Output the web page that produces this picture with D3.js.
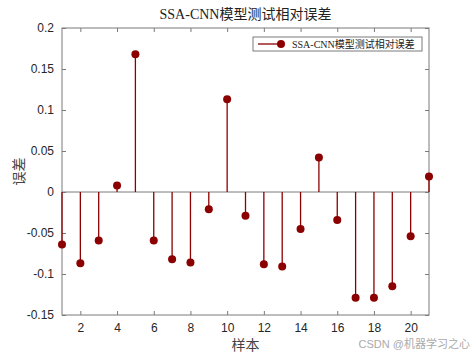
<!DOCTYPE html>
<html>
<head>
<meta charset="utf-8">
<script src="https://cdn.jsdelivr.net/npm/d3@7"></script>
<style>
  body { margin: 0; background: #fff; }
  svg { display: block; }
</style>
</head>
<body>
<svg id="chart" width="474" height="355"></svg>
<script>
// data
var samples = d3.range(1, 22);
var errors = [-0.064, -0.087, -0.059, 0.008, 0.168, -0.059, -0.082, -0.086, -0.021, 0.113,
              -0.029, -0.088, -0.091, -0.045, 0.042, -0.034, -0.129, -0.129, -0.115, -0.054, 0.019];
var xTicks = [2, 4, 6, 8, 10, 12, 14, 16, 18, 20];
var yTicks = [-0.15, -0.1, -0.05, 0, 0.05, 0.1, 0.15, 0.2];

var titleText = "SSA-CNN模型测试相对误差";
var xLabel = "样本";
var yLabel = "误差";

var stemColor = "#8b0000";
var axisColor = "#7a7a7a";
var serif = "'Liberation Serif', 'Times New Roman', 'Noto Sans CJK SC', serif";
var sans = "'Liberation Sans', Arial, 'Noto Sans CJK SC', sans-serif";

var plotL = 62, plotR = 429, plotT = 28, plotB = 315;

var svg = d3.select("#chart");

var x = d3.scaleLinear().domain([1, 21]).range([plotL, plotR]);
var y = d3.scaleLinear().domain([-0.15, 0.2]).range([plotB, plotT]);

// =======================
//  axes (box style, ticks inside)
// =======================
var tickLen = 4;
var fmt = function(d) { return d === 0 ? "0" : String(+d.toFixed(2)); };

svg.append("g")
    .attr("transform", "translate(0," + plotB + ")")
    .call(d3.axisBottom(x).tickValues(xTicks).tickSizeInner(-tickLen).tickSizeOuter(0).tickPadding(8))
    .call(g => g.select(".domain").remove())
    .call(g => g.selectAll("line").attr("stroke", axisColor))
    .call(g => g.selectAll("text").attr("fill", "#262626").style("font", "12px " + sans));

svg.append("g")
    .attr("transform", "translate(0," + plotT + ")")
    .call(d3.axisTop(x).tickValues(xTicks).tickSizeInner(-tickLen).tickSizeOuter(0).tickFormat(""))
    .call(g => g.select(".domain").remove())
    .call(g => g.selectAll("line").attr("stroke", axisColor));

svg.append("g")
    .attr("transform", "translate(" + plotL + ",0)")
    .call(d3.axisLeft(y).tickValues(yTicks).tickSizeInner(-tickLen).tickSizeOuter(0).tickPadding(8).tickFormat(fmt))
    .call(g => g.select(".domain").remove())
    .call(g => g.selectAll("line").attr("stroke", axisColor))
    .call(g => g.selectAll("text").attr("fill", "#262626").style("font", "12px " + sans));

svg.append("g")
    .attr("transform", "translate(" + plotR + ",0)")
    .call(d3.axisRight(y).tickValues(yTicks).tickSizeInner(-tickLen).tickSizeOuter(0).tickFormat(""))
    .call(g => g.select(".domain").remove())
    .call(g => g.selectAll("line").attr("stroke", axisColor));

svg.append("rect")
    .attr("x", plotL).attr("y", plotT)
    .attr("width", plotR - plotL).attr("height", plotB - plotT)
    .attr("fill", "none").attr("stroke", axisColor).attr("stroke-width", 1);

// baseline at zero
svg.append("line")
    .attr("x1", plotL).attr("x2", plotR)
    .attr("y1", y(0)).attr("y2", y(0))
    .attr("stroke", axisColor);

// =======================
//  stems
// =======================
var pts = samples.map((s, i) => ({ s: s, v: errors[i] }));

svg.append("g").selectAll("line")
    .data(pts)
    .join("line")
    .attr("x1", d => x(d.s)).attr("x2", d => x(d.s))
    .attr("y1", y(0)).attr("y2", d => y(d.v))
    .attr("stroke", stemColor).attr("stroke-width", 1.3);

svg.append("g").selectAll("circle")
    .data(pts)
    .join("circle")
    .attr("cx", d => x(d.s)).attr("cy", d => y(d.v))
    .attr("r", 4)
    .attr("fill", stemColor);

// =======================
//  text
// =======================
svg.append("text")
    .attr("x", (plotL + plotR) / 2).attr("y", 19)
    .attr("text-anchor", "middle")
    .style("font", "14px " + serif).attr("fill", "#222")
    .text(titleText);

svg.append("text")
    .attr("x", (plotL + plotR) / 2).attr("y", 350)
    .attr("text-anchor", "middle")
    .style("font", "14px " + serif).attr("fill", "#444")
    .text(xLabel);

svg.append("text")
    .attr("transform", "translate(24," + y(0.025) + ") rotate(-90)")
    .attr("text-anchor", "middle")
    .style("font", "14px " + serif).attr("fill", "#444")
    .text(yLabel);

// legend
var lg = svg.append("g").attr("transform", "translate(253,37)");
lg.append("rect").attr("width", 169).attr("height", 14)
    .attr("fill", "#fff").attr("stroke", axisColor);
lg.append("line").attr("x1", 5).attr("x2", 28).attr("y1", 7).attr("y2", 7)
    .attr("stroke", stemColor).attr("stroke-width", 1.3);
lg.append("circle").attr("cx", 28).attr("cy", 7).attr("r", 4).attr("fill", stemColor);
lg.append("text").attr("x", 39).attr("y", 11)
    .style("font", "10px " + serif).attr("fill", "#222")
    .text(titleText);

// watermark
svg.append("text")
    .attr("x", 470).attr("y", 348)
    .attr("text-anchor", "end")
    .style("font", "11px " + sans).attr("fill", "#aaa")
    .text("CSDN @机器学习之心");
</script>
</body>
</html>
